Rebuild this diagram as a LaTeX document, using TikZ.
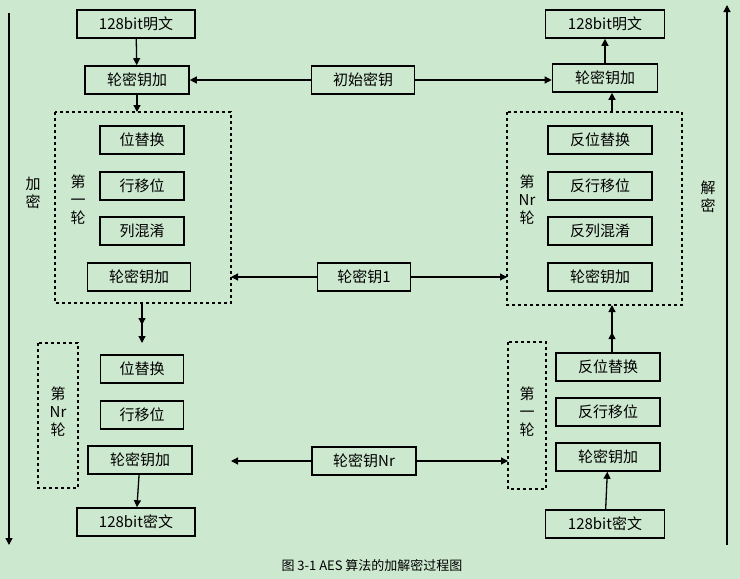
\documentclass[tikz,border=0pt]{standalone}
\usepackage{fontspec}
\setmainfont{Noto Sans CJK SC}
\usetikzlibrary{positioning, arrows.meta}
\definecolor{bggreen}{HTML}{CCE8CF}
\tikzset{
    % solid stage box
    stage/.style={draw, line width=1.6pt, minimum height=28pt, inner sep=0pt, font=\fontsize{15}{15}\selectfont},
    % dashed round frame
    frame/.style={draw, dashed, line width=1.6pt},
    arr/.style={-{Triangle[length=7pt,width=7pt]}, line width=1.3pt},
    lbl/.style={font=\fontsize{15}{18}\selectfont, align=center}
}
\begin{document}
\begin{tikzpicture}[x=1pt, y=-1pt]
    \fill[bggreen] (0,0) rectangle (740,579);
    \useasboundingbox (0,0) rectangle (740,579);
    % encryption side
    \node[stage, minimum width=118pt] (pL) at (136,24) {128bit明文};
    \node[stage, minimum width=104pt] (kL0) at (137,80) {轮密钥加};
    \draw[frame] (55,112) rectangle (231,303);
    \coordinate (fLt) at (137,112);
    \coordinate (fLb) at (142,303);
    \coordinate (fLr) at (231,277);
    \node[stage, minimum width=84pt] (sL1) at (142,140) {位替换};
    \node[stage, minimum width=84pt] (rL1) at (142,186) {行移位};
    \node[stage, minimum width=84pt] (mL1) at (142,231) {列混淆};
    \node[stage, minimum width=103pt] (kL1) at (139,277) {轮密钥加};
    \node[lbl] (nL1) at (78,200) {第\\一\\轮};
    \draw[frame] (38,343) rectangle (78,488);
    \coordinate (gLt) at (142,343);
    \node[lbl] (nLn) at (58,412) {第\\Nr\\轮};
    \node[stage, minimum width=83pt] (sLn) at (142,369) {位替换};
    \node[stage, minimum width=83pt] (rLn) at (142,415) {行移位};
    \node[stage, minimum width=104pt] (kLn) at (140,460) {轮密钥加};
    \node[stage, minimum width=118pt] (cL) at (136,522) {128bit密文};
    \draw[arr] (pL) -- (kL0);
    \draw[arr] (kL0) -- (fLt);
    \draw[arr] (fLb) -- ++(0,22);
    \draw[arr] (fLb) -- (gLt);
    \draw[arr] (kLn) -- (cL);
    % keys
    \node[stage, minimum width=103pt] (k0) at (363,80) {初始密钥};
    \node[stage, minimum width=93pt] (k1) at (364,277) {轮密钥1};
    \node[stage, minimum width=104pt] (kn) at (364,461) {轮密钥Nr};
    % decryption side
    \node[stage, minimum width=119pt] (pR) at (605,24) {128bit明文};
    \node[stage, minimum width=105pt] (kR0) at (605,78) {轮密钥加};
    \draw[frame] (507,112) rectangle (682,305);
    \coordinate (fRt) at (612,112);
    \coordinate (fRb) at (612,305);
    \coordinate (fRl) at (507,277);
    \node[stage, minimum width=104pt] (sR1) at (600,140) {反位替换};
    \node[stage, minimum width=104pt] (rR1) at (600,186) {反行移位};
    \node[stage, minimum width=104pt] (mR1) at (600,231) {反列混淆};
    \node[stage, minimum width=104pt] (kR1) at (600,277) {轮密钥加};
    \node[lbl] (nR1) at (527,200) {第\\Nr\\轮};
    \draw[frame] (508,342) rectangle (546,489);
    \coordinate (gRl) at (508,461);
    \node[lbl] (nRn) at (527,412) {第\\一\\轮};
    \node[stage, minimum width=104pt] (sRn) at (608,367) {反位替换};
    \node[stage, minimum width=104pt] (rRn) at (608,412) {反行移位};
    \node[stage, minimum width=104pt] (kRn) at (608,457) {轮密钥加};
    \node[stage, minimum width=119pt] (cR) at (605,524) {128bit密文};
    \draw[arr] (cR) -- (kRn);
    \draw[arr] (sRn.north -| fRb) -- ++(0,-20);
    \draw[arr] (sRn.north -| fRb) -- (fRb);
    \draw[arr] (fRt) -- (kR0.south -| fRt);
    \draw[arr] (kR0) -- (pR);
    % key arrows
    \draw[arr] (k0) -- (kL0);
    \draw[arr] (k0) -- (kR0.west |- k0);
    \draw[arr] (k1) -- (fLr);
    \draw[arr] (k1) -- (fRl);
    \draw[arr] (kn) -- ++(-133,0);
    \draw[arr] (kn) -- (gRl);
    % direction arrows
    \coordinate (eTop) at (9,13);
    \coordinate (eBot) at (9,545);
    \coordinate (dBot) at (727,545);
    \coordinate (dTop) at (727,5);
    \draw[arr] (eTop) -- (eBot);
    \draw[arr] (dBot) -- (dTop);
    \node[lbl] (enc) at (33,193) {加\\密};
    \node[lbl] (dec) at (708,197) {解\\密};
    \node[font=\fontsize{13}{13}\selectfont] (cap) at (372,566) {图 3-1 AES 算法的加解密过程图};
\end{tikzpicture}
\end{document}
